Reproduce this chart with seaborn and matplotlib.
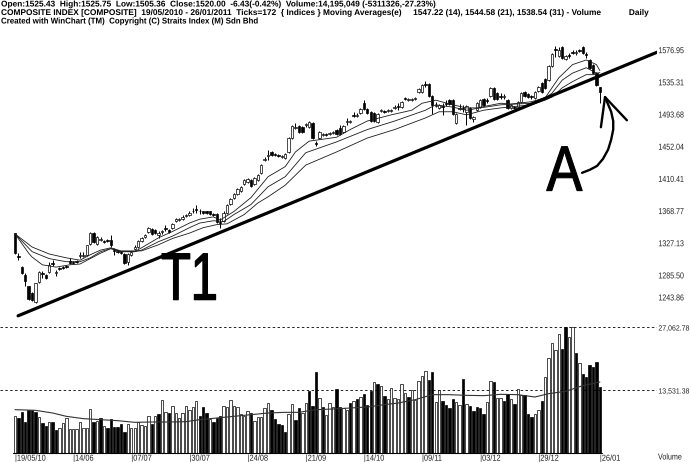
import matplotlib
matplotlib.use("Agg")
import matplotlib.patheffects as pe
import matplotlib.pyplot as plt
import numpy as np
import pandas as pd
import seaborn as sns
from matplotlib.transforms import Affine2D, ScaledTranslation

# daily candles
opens = [1337,1308,1293,1283,1268,1260,1248,1274,1286,1283,1287,1298,1286,1292,1293,1295,1301,1300,1301,1308,
         1308,1309,1323,1337,1323,1328,1327,1328,1328,1315,1314,1313,1310,1300,1309,1317,1319,1327,1332,1339,
         1342,1341,1335,1339,1344,1341,1344,1353,1354,1355,1359,1361,1366,1368,1365,1365,1365,1365,1362,1362,
         1352,1353,1363,1375,1383,1388,1392,1401,1403,1406,1401,1406,1415,1432,1437,1442,1439,1438,1436,1434,
         1442,1460,1473,1476,1474,1477,1474,1480,1454,1460,1464,1465,1465,1467,1471,1473,1468,1481,1481,1490,
         1489,1493,1505,1498,1494,1493,1481,1495,1495,1495,1495,1499,1502,1500,1512,1509,1509,1511,1520,1520,
         1530,1530,1514,1502,1499,1502,1505,1509,1509,1480,1498,1499,1494,1499,1485,1496,1500,1511,1509,1514,
         1525,1518,1514,1513,1509,1499,1500,1500,1507,1520,1517,1514,1512,1521,1531,1536,1535,1553,1575,1566,
         1578,1562,1568,1571,1570,1574,1578,1569,1561,1555,1544,1525.43]
closes = [1311,1306,1286,1275,1252,1251,1273,1287,1284,1279,1296,1297,1287,1291,1292,1293,1298,1298,1300,1309,
          1309,1321,1337,1326,1332,1330,1326,1327,1322,1314,1313,1311,1298,1310,1313,1319,1327,1331,1335,1344,
          1336,1337,1337,1340,1342,1339,1349,1355,1355,1358,1361,1363,1365,1367,1366,1363,1363,1362,1361,1352,
          1350,1363,1374,1381,1388,1394,1397,1406,1407,1398,1408,1412,1425,1433,1438,1438,1438,1437,1437,1439,
          1460,1476,1474,1468,1468,1478,1481,1460,1452,1468,1465,1464,1467,1468,1465,1465,1476,1482,1482,1489,
          1490,1498,1498,1493,1482,1482,1491,1496,1494,1496,1496,1500,1500,1507,1511,1511,1511,1512,1524,1529,
          1529,1514,1503,1503,1503,1500,1504,1504,1491,1491,1499,1498,1502,1486,1487,1505,1509,1503,1508,1525,
          1511,1511,1513,1514,1499,1503,1499,1507,1518,1514,1513,1513,1520,1526,1520,1525,1553,1569,1574,1574,
          1564,1566,1566,1570,1571,1573,1570,1568,1551,1544,1529,1520.00]
highs = [1337,1311,1295,1286,1269,1261,1273,1288,1288,1284,1300,1302,1289,1293,1295,1296,1305,1301,1302,1313,
         1313,1322,1339,1339,1333,1332,1328,1330,1335,1318,1315,1314,1311,1311,1314,1321,1328,1332,1336,1345,
         1344,1342,1340,1341,1348,1342,1350,1357,1357,1361,1362,1365,1370,1374,1368,1366,1366,1366,1363,1363,
         1357,1365,1375,1383,1389,1396,1398,1407,1408,1407,1410,1414,1427,1436,1445,1443,1441,1439,1438,1441,
         1461,1477,1480,1477,1476,1480,1482,1481,1456,1469,1467,1467,1468,1469,1472,1477,1477,1486,1483,1494,
         1493,1499,1509,1499,1495,1494,1493,1498,1496,1498,1498,1503,1505,1508,1513,1512,1512,1513,1525,1530,
         1534,1531,1516,1507,1504,1505,1509,1511,1511,1493,1504,1503,1503,1500,1489,1507,1511,1512,1512,1526,
         1526,1520,1518,1517,1511,1504,1502,1508,1520,1521,1518,1516,1521,1527,1533,1538,1555,1570,1579,1578,
         1579,1568,1570,1574,1574,1575,1579,1571,1562,1556,1546,1525.75]
lows = [1310,1302,1284,1268,1251,1249,1247,1273,1279,1278,1286,1295,1282,1289,1291,1292,1297,1297,1298,1305,
        1306,1308,1322,1324,1322,1327,1324,1326,1319,1309,1311,1310,1297,1296,1308,1315,1318,1326,1331,1337,
        1335,1336,1331,1336,1340,1337,1342,1352,1353,1354,1358,1359,1363,1363,1362,1362,1362,1361,1359,1350,
        1344,1352,1362,1374,1381,1386,1390,1399,1402,1397,1399,1405,1414,1430,1432,1437,1437,1436,1434,1433,
        1441,1459,1472,1467,1467,1474,1473,1459,1450,1459,1463,1463,1464,1465,1464,1464,1467,1477,1480,1487,
        1487,1491,1496,1491,1481,1481,1480,1494,1493,1494,1494,1498,1496,1499,1509,1508,1508,1509,1518,1518,
        1526,1513,1491,1500,1498,1490,1502,1503,1490,1478,1496,1494,1477,1485,1481,1495,1499,1502,1505,1513,
        1509,1509,1511,1511,1498,1498,1498,1499,1505,1513,1512,1511,1511,1520,1518,1524,1534,1552,1565,1565,
        1562,1561,1564,1569,1568,1571,1569,1564,1549,1543,1527,1505.36]

# moving averages, read at a few bars along each curve
ma14_bars = [0,4,5,8,12,16,19,22,25,28,31,35,37,42,46,51,54,58,60,64,69,74,79,82,86,94,98,103,110,116,119,123,128,132,135,142,145,151,155,159,163,167,170,171]
ma14 = [1336,1311,1306,1296,1293,1296,1297,1304,1311,1317,1313,1313,1318,1331,1339,1350,1355,1358,1354,1365,1383,1410,1423,1442,1456,1461,1471,1482,1490,1496,1505,1509,1503,1499,1499,1505,1504,1507,1512,1538,1555,1561,1555,1547.22]
ma21_bars = [0,5,10,15,19,22,25,28,31,35,37,42,46,51,54,58,61,64,69,74,79,85,94,103,111,120,123,128,132,136,142,151,155,157,160,163,167,170,171]
ma21 = [1336,1313,1304,1300,1300,1305,1313,1317,1313,1313,1315,1326,1333,1344,1350,1353,1352,1361,1374,1397,1410,1441,1455,1471,1482,1496,1503,1500,1496,1499,1503,1505,1512,1518,1535,1544,1551,1544,1544.58]
ma31_bars = [0,5,10,15,19,22,25,28,31,35,37,42,46,51,55,59,62,67,71,74,79,85,94,103,111,120,124,128,132,137,142,151,155,157,160,163,167,170,171]
ma31 = [1336,1319,1310,1305,1302,1309,1315,1318,1314,1314,1314,1322,1330,1337,1344,1348,1349,1361,1376,1384,1399,1425,1442,1460,1471,1486,1494,1494,1490,1496,1499,1503,1509,1513,1525,1533,1542,1542,1538.54]

# volume in thousands
volume = [7876,7518,8735,6587,9308,9165,8735,7733,6444,5728,6587,6730,4869,5370,6444,7518,5155,5155,5155,6659,
          5370,5442,9451,6587,6945,7446,5728,5298,7375,5585,5585,6158,4439,6229,5370,5370,6587,6086,5728,8019,
          6158,8019,8449,11456,8807,8592,10167,8592,7518,8592,10167,9308,9881,11170,8019,9881,8592,7303,6730,7518,
          8019,10167,9881,11313,10167,9881,8449,7876,9022,8592,6874,7733,7733,9666,10812,9236,7303,6301,6014,4511,
          8449,10525,7160,9666,8592,10740,13389,10024,17327,11742,9809,8234,10740,9881,13747,9881,9666,9308,10740,11098,
          11671,12100,12745,10239,13318,15251,14893,14463,12315,11599,13962,11814,11599,14893,12888,12029,13461,11456,15394,16611,
          17614,15752,17327,10883,13461,11241,10310,9666,11671,10883,10382,15895,10597,10167,8950,9881,9666,8449,11026,15394,
          15322,11742,11886,11098,12745,11599,10454,13747,12530,12458,8306,7733,8306,9308,11170,16253,20406,23628,22053,25561,
          22339,27062.78,24917,27062.78,21480,19332,17041,16325,18974,18401,19547,14195.05]
vol_colour = list("wbbbbbbwbb" "wbbwwwwwww" "wwwbwbwbbb" "bbbwwwwwww" "bwbwwbwwww" "wwwwbbbwbb"
                  "bwwwwwwwwb" "wwwwwbbbbb" "wwbbwwbbbw" "bwwwbbwwbw" "bwbbbwbwbw" "wwwwwbwwww"
                  "wbbwwbbbbw" "wbwbbbbbww" "bwwbbwbwwb" "bbwwbwwwww" "bbwwbwbbbb" "bb")

vol_ma_bars = [0,6,11,15,20,25,30,35,40,45,50,54,59,64,69,74,79,83,88,93,98,103,108,112,117,122,127,132,137,142,147,152,156,161,166,171]
vol_ma = [9308,9165,8592,7876,7375,7160,6945,6587,6659,6659,6730,7160,7518,7876,8234,8592,8735,8735,9308,9451,9666,9881,10382,10740,11456,12530,12530,12387,12315,12602,12530,12029,12745,13246,14463,15251]

price_tick_pos = [1576.95,1535.31,1493.68,1452.04,1410.41,1368.77,1327.13,1285.50,1257.0]
price_tick_labels = ["1576.95","1535.31","1493.68","1452.04","1410.41","1368.77","1327.13","1285.50","1243.86"]
vol_ticks = [27062.78,13531.38]
vol_tick_labels = ["27,062.78","13,531.38"]
date_bars = [0,17,34,51,68,85,102,119,136,153,171]
date_labels = ["|19/05/10","|14/06","|07/07","|30/07","|24/08","|21/09","|14/10","|09/11","|03/12","|29/12","|26/01"]

# hand drawn trend line and arrow
trend_bars = [0.9,187.7]
trend_prices = [1230,1571]
arrow_bars = [165.8,168.1,170.2,171.9,173.4,174.3,174.9,174.9,174.3,172.5]
arrow_prices = [1415,1419,1424,1433,1445,1458,1471,1482,1494,1513]
head_bars = [171.3,172.5,178.9]
head_prices = [1474,1513,1483]

header = [
    "Open:1525.43  High:1525.75  Low:1505.36  Close:1520.00  -6.43(-0.42%)  Volume:14,195,049 (-5311326,-27.23%)",
    "COMPOSITE INDEX [COMPOSITE]  19/05/2010 - 26/01/2011  Ticks=172  { Indices } Moving Averages(e)     1547.22 (14), 1544.58 (21), 1538.54 (31) - Volume            Daily",
    "Created with WinChart (TM)  Copyright (C) Straits Index (M) Sdn Bhd",
]
header_squeeze = [1.0, 1.0, 0.95]


# no narrow font installed, so squeeze the glyphs sideways when drawing
class Narrow(pe.AbstractPathEffect):
    def __init__(self, sx, stroke=0):
        super().__init__()
        self.sx = sx
        self.stroke = stroke

    def draw_path(self, renderer, gc, tpath, affine, rgbFace=None):
        gc0 = renderer.new_gc()
        gc0.copy_properties(gc)
        if self.stroke:
            gc0.set_linewidth(self.stroke)
            gc0.set_foreground(rgbFace)
        renderer.draw_path(gc0, tpath, Affine2D().scale(self.sx, 1) + affine, rgbFace)
        gc0.restore()


sns.set_theme(style="white")
plt.rcParams["font.family"] = ["Liberation Sans", "DejaVu Sans"]

W, H = 691, 462
fig = plt.figure(figsize=(W / 100, H / 100), dpi=100)
ax = fig.add_axes([0, 1 - 322 / H, 657 / W, 322 / H])
ax_vol = fig.add_axes([0, 1 - 453 / H, 657 / W, 131 / H])
lift = ScaledTranslation(0, 1.5 / 100, fig.dpi_scale_trans)

df = pd.DataFrame({"bar": np.arange(len(opens)), "open": opens, "close": closes, "high": highs, "low": lows})
df["up"] = df["close"] >= df["open"]

ax.vlines(df["bar"], df["low"], df["high"], color="black", lw=0.7, zorder=2)
ax.bar(df["bar"], (df["close"] - df["open"]).abs(), bottom=df[["open", "close"]].min(axis=1), width=0.7,
       color=["white" if u else "black" for u in df["up"]], edgecolor="black", linewidth=0.5, zorder=3)

for bars, vals in [(ma14_bars, ma14), (ma21_bars, ma21), (ma31_bars, ma31)]:
    sns.lineplot(x=bars, y=vals, color="#1a1a1a", lw=0.6, ax=ax, zorder=4)

ax.plot(trend_bars, trend_prices, color="black", lw=2.3, solid_capstyle="round", zorder=5)
ax.plot(arrow_bars, arrow_prices, color="black", lw=1.7, zorder=5)
ax.plot(head_bars, head_prices, color="black", lw=1.7, zorder=5)
ax.text(42.7, 1251, "T1", fontsize=48, color="black", va="baseline", ha="left", path_effects=[Narrow(0.73, 1.0)])
ax.text(155.4, 1392, "A", fontsize=46, color="black", va="baseline", ha="left", path_effects=[Narrow(0.84, 0.8)])

ax.set_xlim(-4.386, 187.7)
ax.set_ylim(1222, 1638.6)
ax.yaxis.tick_right()
ax.set_yticks(price_tick_pos, price_tick_labels)
ax.tick_params(axis="y", length=0, pad=1, labelsize=6.2, labelcolor="#222222")
for t in ax.get_yticklabels():
    t.set_va("top")
    t.set_transform(t.get_transform() + lift)
    t.set_path_effects([Narrow(0.82)])
ax.set_xticks([])
ax.set_xlabel("")
ax.set_ylabel("")
sns.despine(ax=ax, left=True, bottom=True, right=True, top=True)
ax.patch.set_alpha(0)

vol_df = pd.DataFrame({"bar": np.arange(len(volume)), "volume": volume, "colour": vol_colour})
sns.barplot(data=vol_df, x="bar", y="volume", hue="colour", palette={"w": "white", "b": "black"}, dodge=False,
            native_scale=True, width=0.7, edgecolor="black", linewidth=0.5, legend=False, ax=ax_vol, zorder=2)
sns.lineplot(x=vol_ma_bars, y=vol_ma, color="#333333", lw=0.8, ax=ax_vol, zorder=3)
ax_vol.plot([-0.5, 171.5], [0, 0], color="black", lw=0.8, clip_on=False)
for v in vol_ticks:
    ax_vol.axhline(v, color="#222222", lw=0.7, dashes=(2.5, 2.5), zorder=1)

ax_vol.set_xlim(-4.386, 187.7)
ax_vol.set_ylim(0, 28139)
ax_vol.yaxis.tick_right()
ax_vol.set_yticks(vol_ticks, vol_tick_labels)
ax_vol.tick_params(axis="y", length=0, pad=1, labelsize=5.4, labelcolor="#222222")
for t in ax_vol.get_yticklabels():
    t.set_va("top")
    t.set_transform(t.get_transform() + lift)
    t.set_path_effects([Narrow(0.93)])
ax_vol.set_xticks(date_bars, date_labels)
ax_vol.tick_params(axis="x", length=0, pad=0.5, labelsize=6.2, labelcolor="#222222")
for t in ax_vol.get_xticklabels():
    t.set_ha("left")
    t.set_path_effects([Narrow(0.86)])
ax_vol.set_xlabel("")
ax_vol.set_ylabel("")
sns.despine(ax=ax_vol, left=True, bottom=True, right=True, top=True)
ax_vol.patch.set_alpha(0)

fig.text(658 / W, 1 - 457 / H, "Volume", fontsize=6.2, color="#222222", va="center", ha="left",
         path_effects=[Narrow(0.83)])
for y_px, line, sx in zip([5, 13.5, 22], header, header_squeeze):
    fig.text(1 / W, 1 - y_px / H, line, fontsize=6.0, color="black", va="center", ha="left", weight="bold",
             path_effects=[Narrow(sx)])

fig.savefig("out.png", dpi=100)
